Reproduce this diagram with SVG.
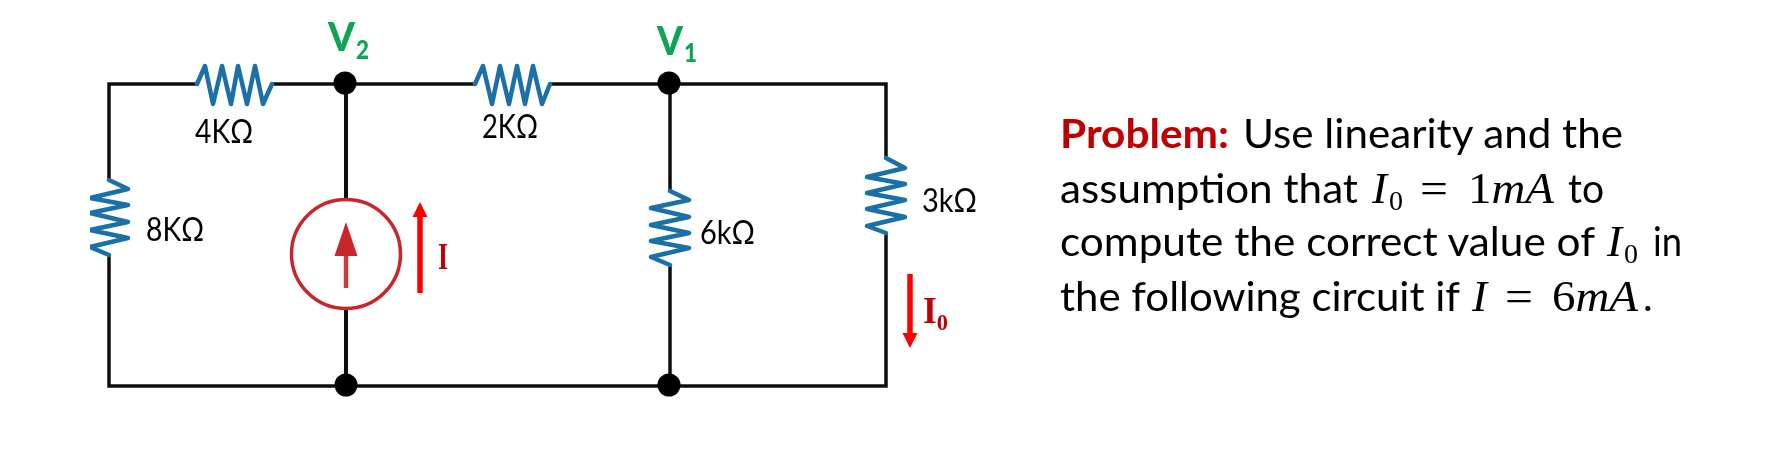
<svg xmlns="http://www.w3.org/2000/svg" width="1789" height="459" viewBox="0 0 1789 459">
<style>
.w{fill:none;stroke:#111;stroke-width:3.5;stroke-linejoin:miter}
.r{fill:none;stroke:#1f6fa8;stroke-width:4.5;stroke-linejoin:round;stroke-linecap:round}
.n{fill:#000}
.l{font-family:"Lato","Open Sans",sans-serif;font-size:32px;fill:#000}
.v{font-family:"Lato","Open Sans",sans-serif;font-weight:900;fill:#0ba552}
.c{font-family:"Liberation Serif",serif;font-weight:700;fill:#c00000}
.t{font-family:"Lato","Open Sans",sans-serif;font-size:41px;fill:#000}
.b{font-weight:700;fill:#c00000}
.m{font-family:"Liberation Serif",serif;font-size:45px;fill:#000}
.i{font-style:italic}
.s{font-family:"Liberation Serif",serif;font-size:28px;fill:#000}
</style>
<defs><filter id="soft" x="0" y="0" width="1" height="1"><feGaussianBlur stdDeviation="0.45"/></filter></defs>
<rect width="1789" height="459" fill="#fff"/>
<g filter="url(#soft)">
<g id="connectors">
<path class="w" d="M109 180V84H197"/>
<path class="w" d="M272 84H475"/>
<path class="w" d="M550 84H886V158"/>
<path class="w" d="M109 255V386H886V233"/>
<path class="w" d="M346 84V199" style="stroke-width:4"/>
<path class="w" d="M346 309V385" style="stroke-width:4"/>
<path class="w" d="M670 84V191"/>
<path class="w" d="M670 265V385"/>
</g>
<g id="r-4k"><path class="r" d="M197 84L205 66L213 104L222 66L231 104L238 66L247 104L255 66L263 104L272 84"/><text class="l" x="195" y="143" textLength="58" lengthAdjust="spacingAndGlyphs">4KΩ</text></g>
<g id="r-2k"><path class="r" d="M475 84L483 66L492 104L500 66L509 104L517 66L525 104L533 66L542 104L550 84"/><text class="l" x="482" y="138" textLength="56" lengthAdjust="spacingAndGlyphs">2KΩ</text></g>
<g id="r-8k"><path class="r" d="M109 180L128 189L90 198L128 205L90 213L128 222L90 230L128 238L90 247L109 255"/><text class="l" x="146" y="241" textLength="58" lengthAdjust="spacingAndGlyphs">8KΩ</text></g>
<g id="r-6k"><path class="r" d="M670 191L689 200L651 208L689 217L651 225L689 233L651 241L689 248L651 257L670 265"/><text class="l" x="700" y="244" textLength="55" lengthAdjust="spacingAndGlyphs">6kΩ</text></g>
<g id="r-3k"><path class="r" d="M886 158L905 168L867 177L905 184L867 193L905 200L867 209L905 217L867 226L886 233"/><text class="l" x="922" y="212" textLength="55" lengthAdjust="spacingAndGlyphs">3kΩ</text></g>
<g id="node-v2"><circle class="n" cx="345" cy="83" r="11.5"/><text class="v" x="328" y="51" font-size="39" textLength="27" lengthAdjust="spacingAndGlyphs">V</text><text class="v" x="356" y="59" font-size="26" textLength="13" lengthAdjust="spacingAndGlyphs">2</text></g>
<g id="node-v1"><circle class="n" cx="669" cy="83" r="11.5"/><text class="v" x="657" y="55" font-size="39" textLength="26" lengthAdjust="spacingAndGlyphs">V</text><text class="v" x="684" y="62" font-size="26" textLength="13" lengthAdjust="spacingAndGlyphs">1</text></g>
<g id="node-b1"><circle class="n" cx="346" cy="385" r="11.5"/></g>
<g id="node-b2"><circle class="n" cx="669" cy="385" r="11.5"/></g>
<g id="source"><circle cx="346" cy="254" r="54.5" fill="#fff" stroke="#c8262b" stroke-width="3.5"/><path d="M346 222L357.500 256H334.500Z" fill="#c8262b"/><path d="M346 256V288" stroke="#d0383c" stroke-width="4.500" fill="none"/></g>
<g id="current-i"><path d="M420 217V293" stroke="#f00" stroke-width="5.500" fill="none"/><path d="M420 202L427.500 217H412.500Z" fill="#f00"/><text class="c" x="438" y="269" font-size="38" textLength="10" lengthAdjust="spacingAndGlyphs">I</text></g>
<g id="current-i0"><path d="M910 274V334" stroke="#f00" stroke-width="5.500" fill="none"/><path d="M910 348L902.500 333H917.500Z" fill="#f00"/><text class="c" x="923" y="323" font-size="38" textLength="25" lengthAdjust="spacingAndGlyphs">I<tspan dy="7" font-size="24">0</tspan></text></g>
<g id="problem">
<text class="t b" x="1060" y="148" textLength="169" lengthAdjust="spacingAndGlyphs">Problem:</text>
<text class="t" x="1243" y="148" textLength="380" lengthAdjust="spacingAndGlyphs">Use linearity and the</text>
<text class="t" x="1060" y="203" textLength="298" lengthAdjust="spacingAndGlyphs">assumption that</text>
<text class="m i" x="1372" y="203" textLength="15" lengthAdjust="spacingAndGlyphs">I</text>
<text class="s" x="1389" y="210" textLength="14" lengthAdjust="spacingAndGlyphs">0</text>
<text class="m" x="1420" y="203" textLength="28" lengthAdjust="spacingAndGlyphs">=</text>
<text class="m" x="1468" y="203" textLength="86" lengthAdjust="spacingAndGlyphs">1<tspan class="i">mA</tspan></text>
<text class="t" x="1568" y="203" textLength="36" lengthAdjust="spacingAndGlyphs">to</text>
<text class="t" x="1060" y="256" textLength="535" lengthAdjust="spacingAndGlyphs">compute the correct value of</text>
<text class="m i" x="1607" y="256" textLength="15" lengthAdjust="spacingAndGlyphs">I</text>
<text class="s" x="1624" y="263" textLength="14" lengthAdjust="spacingAndGlyphs">0</text>
<text class="t" x="1653" y="256" textLength="29" lengthAdjust="spacingAndGlyphs">in</text>
<text class="t" x="1060" y="311" textLength="400" lengthAdjust="spacingAndGlyphs">the following circuit if</text>
<text class="m i" x="1472" y="311" textLength="15" lengthAdjust="spacingAndGlyphs">I</text>
<text class="m" x="1505" y="311" textLength="28" lengthAdjust="spacingAndGlyphs">=</text>
<text class="m" x="1552" y="311" textLength="86" lengthAdjust="spacingAndGlyphs">6<tspan class="i">mA</tspan></text>
<text class="t" x="1643" y="311">.</text>
</g>
</g>
</svg>
